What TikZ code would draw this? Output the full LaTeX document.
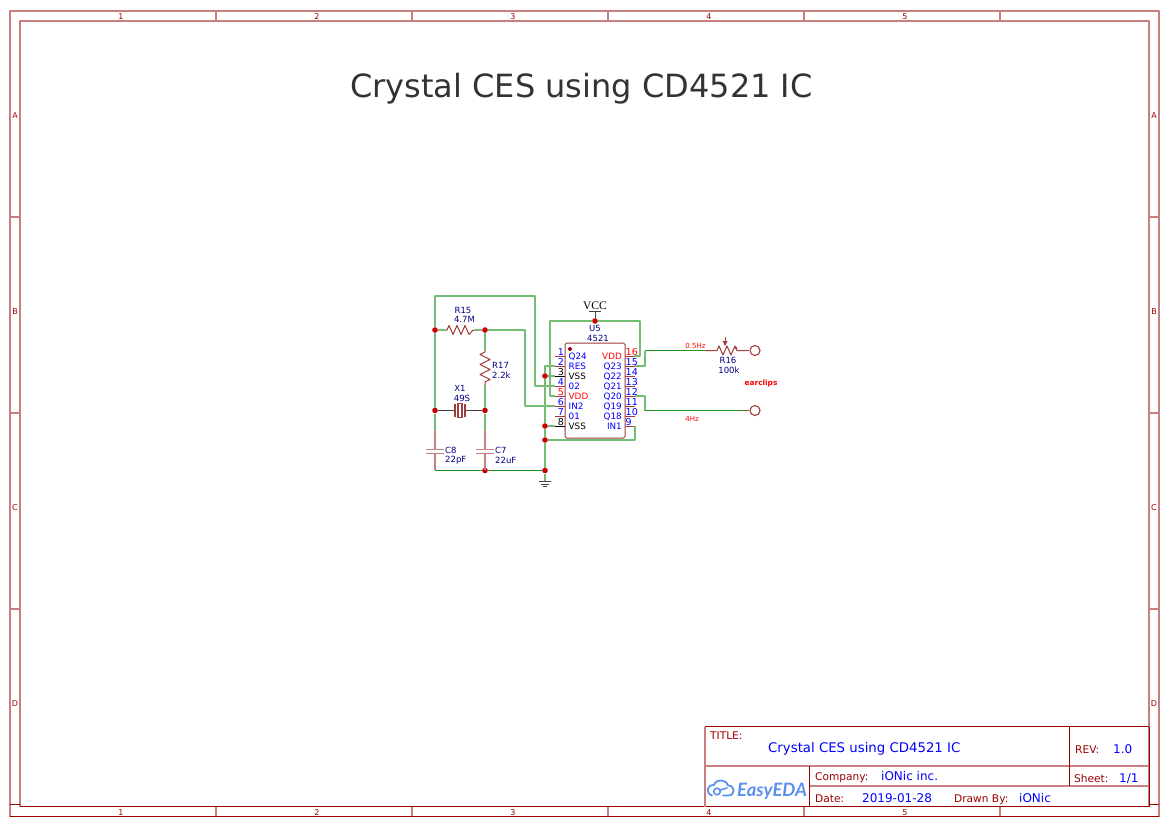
\documentclass[tikz,border=0pt]{standalone}
\usepackage{fontspec}
\setmainfont{DejaVu Sans}
\newfontfamily\vccfont{Liberation Serif}
\newfontfamily\logofont{Lato}
\definecolor{sheetred}{HTML}{990000}
\definecolor{framered}{HTML}{C87F7F}
\definecolor{wiregreen}{HTML}{1E951E}
\definecolor{wirelight}{HTML}{74BD74}
\definecolor{partbrown}{HTML}{A03C3C}
\definecolor{partlight}{HTML}{C87F7F}
\definecolor{junctionred}{HTML}{CC0000}
\definecolor{refnavy}{HTML}{000080}
\definecolor{pinblue}{HTML}{0000FF}
\definecolor{logoblue}{HTML}{5B8FF0}
\tikzset{
	wire/.style={wirelight,line width=1.6pt},
	wire dark/.style={wiregreen,line width=1pt},
	part/.style={partbrown,line width=1pt},
	part light/.style={partlight,line width=1.6pt},
	lead/.style={black!75,line width=1pt},
	frameline/.style={framered,line width=1.6pt},
	frame dark/.style={sheetred,line width=1pt},
	junction/.style={circle,fill=junctionred,inner sep=0pt,minimum size=5.6pt},
	clip pad/.style={circle,draw=partbrown,line width=1.1pt,inner sep=0pt,minimum size=10pt},
	reftext/.style={refnavy,font=\fontsize{8.5}{9}\selectfont,inner sep=0pt},
	pintext/.style={font=\fontsize{8.8}{9}\selectfont,inner sep=0pt},
	pinnum/.style={font=\fontsize{9.5}{10}\selectfont,inner sep=0pt},
	sheettext/.style={sheetred,font=\fontsize{8}{9}\selectfont,inner sep=0pt},
	blocklabel/.style={sheetred,font=\fontsize{10.6}{11}\selectfont,inner sep=0pt,anchor=base west},
	blockvalue/.style={blue,font=\fontsize{12}{13}\selectfont,inner sep=0pt,anchor=base west},
	nettext/.style={red,font=\fontsize{7}{8}\selectfont,inner sep=0pt},
}
\begin{document}
\begin{tikzpicture}[x=1pt,y=-1pt,line join=round]
	\useasboundingbox (0,0) rectangle (1169,827);
	% sheet frame
	\draw[frameline] (10,816.5)--(10,11)--(1159,11)--(1159,816.5);
	\draw[frameline] (20,806.5)--(20,21)--(1149,21)--(1149,806.5);
	\foreach \tx in {216,412,608,804,1000} {
		\draw[frameline] (\tx,11)--(\tx,21);
		\draw[frameline] (\tx,806.5)--(\tx,816.5);
	}
	\foreach \ty in {217,413,609} {
		\draw[frameline] (10,\ty)--(20,\ty);
		\draw[frameline] (1149,\ty)--(1159,\ty);
	}
	\draw[frame dark] (10,804.5)--(20,804.5) (1149,804.5)--(1159,804.5);
	\draw[frame dark] (20,806.5)--(1149,806.5);
	\draw[frame dark] (10,816.5)--(1159,816.5);
	\foreach \n/\tx in {1/121,2/317,3/513,4/709,5/905} {
		\node[sheettext] (top\n) at (\tx,16.5) {\n};
		\node[sheettext] (bot\n) at (\tx,812.5) {\n};
	}
	\foreach \n/\ty in {A/116,B/312,C/508,D/704} {
		\node[sheettext] (left\n) at (15,\ty) {\n};
		\node[sheettext] (right\n) at (1154,\ty) {\n};
	}
	\node[text=black!80,font=\fontsize{32}{36}\selectfont,inner sep=0pt] (sheettitle) at (581.5,89) {Crystal CES using CD4521 IC};
	% title block
	\draw[frameline] (705,726.5)--(705,806.5);
	\draw[frameline] (705,766)--(1149,766);
	\draw[frameline] (809.5,786)--(1149,786);
	\draw[frame dark] (705,726.5)--(1149,726.5);
	\draw[frame dark] (1149,726.5)--(1149,806.5);
	\draw[frame dark] (809.5,766)--(809.5,806.5);
	\draw[frame dark] (1069.5,726.5)--(1069.5,786);
	\node[blocklabel] (titlekey) at (710,739) {TITLE:};
	\node[blockvalue,font=\fontsize{13.3}{14}\selectfont] (titleval) at (768,752.5) {Crystal CES using CD4521 IC};
	\node[blocklabel] (revkey) at (1075,753) {REV:};
	\node[blockvalue] (revval) at (1113,753) {1.0};
	\node[blocklabel] (compkey) at (815,780) {Company:};
	\node[blockvalue] (compval) at (881,780) {iONic inc.};
	\node[blocklabel] (sheetkey) at (1074,782) {Sheet:};
	\node[blockvalue] (sheetval) at (1119,782) {1/1};
	\node[blocklabel] (datekey) at (815,802) {Date:};
	\node[blockvalue] (dateval) at (862,802) {2019-01-28};
	\node[blocklabel] (drawnkey) at (954,802) {Drawn By:};
	\node[blockvalue] (drawnval) at (1019,802) {iONic};
	% logo
	\draw[logoblue,line width=1.8pt,line cap=round] (712,795.5)..controls (705,793) and (707,784.5) .. (714,785)
		..controls (716,778.5) and (726,779) .. (728,785.5)
		..controls (735,785) and (736,795.5) .. (728,795.5)--(723,795.5);
	\draw[logoblue,line width=1.6pt,line cap=round] (717,791.5) circle (3.3);
	\draw[logoblue,line width=1.6pt,line cap=round] (720,790)--(727,788);
	\node[logoblue,font=\logofont\bfseries\itshape\fontsize{18.4}{19}\selectfont,inner sep=0pt,anchor=base west] (logotext) at (737,796) {EasyEDA};
	% IC
	\draw[part,rounded corners=1.5pt] (565,343) rectangle (625,438);
	\node[circle,fill=junctionred!80!black,inner sep=0pt,minimum size=4pt] (pinone) at (570,349) {};
	\node[reftext] (uref) at (595,328) {U5};
	\node[reftext] (uval) at (598,338) {4521};
	\foreach \n/\py/\lab/\col/\pcol in {1/356/Q24/pinblue/partbrown,2/366/RES/pinblue/partbrown,3/376/VSS/black/black,4/386/02/pinblue/partbrown,5/396/VDD/red/partbrown,6/406/IN2/pinblue/partbrown,7/416/01/pinblue/partbrown,8/426/VSS/black/black} {
		\coordinate (p\n) at (555,\py);
		\coordinate (pi\n) at (565,\py);
		\draw[part,\pcol] (p\n)--(pi\n);
		\node[pinnum,text=\col,anchor=east] (num\n) at (564,\py-4) {\n};
		\node[pintext,text=\col,anchor=west] (name\n) at (568.5,\py+0.5) {\lab};
	}
	\foreach \n/\py/\lab/\col in {16/356/VDD/red,15/366/Q23/pinblue,14/376/Q22/pinblue,13/386/Q21/pinblue,12/396/Q20/pinblue,11/406/Q19/pinblue,10/416/Q18/pinblue,9/426/IN1/pinblue} {
		\coordinate (p\n) at (635,\py);
		\coordinate (pi\n) at (625,\py);
		\draw[part] (p\n)--(pi\n);
		\node[pinnum,text=\col,anchor=west] (num\n) at (625.5,\py-4) {\n};
		\node[pintext,text=\col,anchor=east] (name\n) at (622,\py+0.5) {\lab};
	}
	% junctions
	\node[junction] (jvcc) at (595,321) {};
	\node[junction] (ja) at (435,330) {};
	\node[junction] (jb) at (485,330) {};
	\node[junction] (jc) at (435,410.5) {};
	\node[junction] (jd) at (485,410.5) {};
	\node[junction] (je) at (485,470.5) {};
	\node[junction] (jf) at (545,470.5) {};
	\node[junction] (jg) at (545,376) {};
	\node[junction] (jh) at (545,426) {};
	\node[junction] (ji) at (545,440) {};
	% part ends
	\coordinate (rfifteenl) at (445,330);
	\coordinate (rfifteenr) at (475,330);
	\coordinate (rseventop) at (485,350);
	\coordinate (rsevenbot) at (485,385);
	\coordinate (xl) at (455,410.5);
	\coordinate (xr) at (465,410.5);
	\coordinate (ceightt) at (435,430);
	\coordinate (ceightb) at (435,470.5);
	\coordinate (cseventt) at (485,430);
	\coordinate (rsixl) at (705,350.5);
	\coordinate (rsixr) at (745,350.5);
	\node[clip pad] (clipa) at (755,350.5) {};
	\node[clip pad] (clipb) at (755,410.5) {};
	\coordinate (clipwire) at (745,410.5);
	\coordinate (gndtop) at (545,480.5);
	\coordinate (vcctop) at (595,311);
	% corners
	\coordinate (topleft) at (435,296);
	\coordinate (topright) at (535,296);
	\coordinate (vccleft) at (550,321);
	\coordinate (vccright) at (640,321);
	\coordinate (gndend) at (545,366);
	\coordinate (feedback) at (525,330);
	\coordinate (nineout) at (635,440);
	\coordinate (halfbend) at (645,350.5);
	\coordinate (fourbend) at (645,410.5);
	% wires
	\draw[wire] (p5) -| (vccleft) -- (jvcc) -- (vccright) |- (p16);
	\draw[wire] (ceightt) -- (jc) -- (ja) -- (topleft) -- (topright) |- (p4);
	\draw[wire] (ja) -- (rfifteenl);
	\draw[wire] (jb) -- (rfifteenr);
	\draw[wire] (jb) -- (feedback) |- (p6);
	\draw[wire] (jb) -- (rseventop);
	\draw[wire] (rsevenbot) -- (jd) -- (cseventt);
	\draw[wire] (gndtop) -- (jf) -- (ji) -- (jh) -- (jg) -- (gndend) -- (p2);
	\draw[wire] (jg) -- (p3);
	\draw[wire] (jh) -- (p8);
	\draw[wire] (ji) -- (nineout) -- (p9);
	\draw[wire] (p15) -| (halfbend);
	\draw[wire] (p12) -| (fourbend);
	\draw[wire dark] (ceightb) -- (je) -- (jf);
	\draw[wire dark] (halfbend) -- (rsixl);
	\draw[wire dark] (fourbend) -- (clipwire);
	% VCC
	\draw[lead] (jvcc) -- (vcctop);
	\draw[lead] (589,311)--(601,311);
	\node[font=\vccfont\fontsize{11.5}{12}\selectfont,inner sep=0pt] (vcclabel) at (595,306) {VCC};
	% ground
	\draw[lead] (539,481)--(551,481) (541,484)--(549,484) (543,486.5)--(547,486.5);
	% resistors
	\draw[part] (rfifteenl) -- (447,330) -- (449,325.5) -- (453,334.5) -- (457,325.5) -- (461,334.5) -- (465,325.5) -- (469,334.5) -- (473,330) -- (rfifteenr);
	\draw[part] (rseventop) -- (485,352) -- (480,354.5) -- (490,359.5) -- (480,364.5) -- (490,369.5) -- (480,374.5) -- (490,379.5) -- (485,382) -- (rsevenbot);
	\draw[part] (rsixl) -- (717,350.5) -- (719,346) -- (723,355) -- (727,346) -- (731,355) -- (735,346) -- (737,350.5) -- (rsixr);
	\draw[part] (rsixr) -- (clipa);
	\draw[part] (clipwire) -- (clipb);
	\draw[part] (725,337)--(725,345);
	\fill[partbrown] (722.5,341)--(727.5,341)--(725,346)--cycle;
	\fill[partbrown] (736,348) circle (1.3);
	\node[reftext] (rsixref) at (728,360.5) {R16};
	\node[reftext] (rsixval) at (729,370) {100k};
	\node[font=\bfseries\fontsize{7.4}{8}\selectfont,text=red,inner sep=0pt] (earclips) at (761,383.5) {earclips};
	\node[nettext] (halfhz) at (695.5,345.5) {0.5Hz};
	\node[nettext] (fourhz) at (692,418.5) {4Hz};
	% R15, R17
	\node[reftext] (rfiveref) at (463,310.5) {R15};
	\node[reftext] (rfiveval) at (464.5,319.5) {4.7M};
	\node[reftext,anchor=west] (rsevref) at (492,365.5) {R17};
	\node[reftext,anchor=west] (rsevval) at (492,375) {2.2k};
	% crystal
	\draw[lead] (jc) -- (xl);
	\draw[lead] (xr) -- (jd);
	\draw[part,line width=2pt] (455,404)--(455,417);
	\draw[part,line width=2pt] (465,404)--(465,417);
	\draw[part,fill=white,line width=1.2pt] (458,403.5) rectangle (462,417.5);
	\node[reftext] (xref) at (460,388.5) {X1};
	\node[reftext] (xval) at (462,398) {49S};
	% capacitors
	\foreach \cx in {435,485} {
		\draw[part light] (\cx,430)--(\cx,449.5);
		\draw[part light] (\cx,453.5)--(\cx,470);
		\draw[part light] (\cx-9,449.5)--(\cx+9,449.5);
		\draw[part light] (\cx-9,453.5)--(\cx+9,453.5);
	}
	\node[reftext,anchor=west] (ceightref) at (445,450.5) {C8};
	\node[reftext,anchor=west] (ceightval) at (445,460.5) {22pF};
	\node[reftext,anchor=west] (csevref) at (495,450.5) {C7};
	\node[reftext,anchor=west] (csevval) at (495,460.5) {22uF};
\end{tikzpicture}
\end{document}
